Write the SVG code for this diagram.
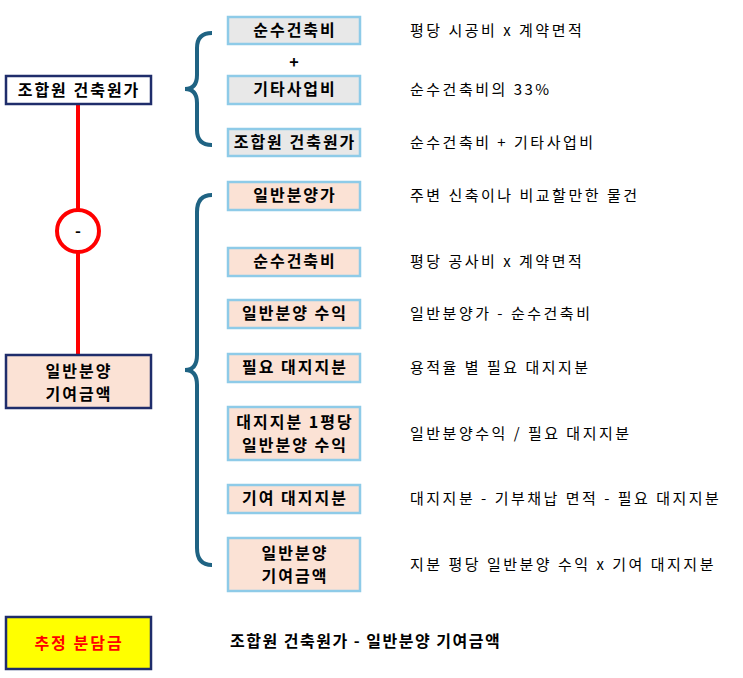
<svg xmlns="http://www.w3.org/2000/svg" width="743" height="678" viewBox="0 0 743 678">
<style>
text{font-family:"Noto Sans CJK KR","Noto Sans",sans-serif;font-size:15px;fill:#000;letter-spacing:2.5px}
.b{font-weight:bold;text-anchor:middle;font-size:16px;letter-spacing:2px}
.l{fill:#fff;stroke:#1f2d6b;stroke-width:2.5}
.p{fill:#fbe2d5}
.r{stroke:#8ecbe8;stroke-width:2.5}
.g{fill:#e8e8e8}
.brace{fill:none;stroke:#1f6383;stroke-width:4}
</style>
<rect width="743" height="678" fill="#fff"/>
<g id="connectors">
<line x1="78" y1="104" x2="78" y2="355" stroke="#f00" stroke-width="4"/>
<path class="brace" d="M212,33 Q197,33 197,48 V75 Q197,89 185,89 Q197,89 197,103 V130 Q197,145 212,145"/>
<path class="brace" d="M212,195 Q197,195 197,212 V355 Q197,370 185,370 Q197,370 197,385 V548 Q197,565 212,565"/>
</g>
<g id="minus"><circle cx="78" cy="231" r="21" fill="#fff" stroke="#f00" stroke-width="4"/><text x="79" y="237" class="b">-</text></g>
<g id="cost"><rect x="6" y="76" width="145" height="28" class="l"/><text x="79" y="96" class="b">조합원 건축원가</text></g>
<g id="contrib"><rect x="6" y="355" width="145" height="53" class="l p"/><text x="79" y="377" class="b">일반분양</text><text x="79" y="400" class="b">기여금액</text></g>
<g id="share"><rect x="6" y="617" width="145" height="52" class="l" style="fill:#ff0"/><text x="79" y="649" class="b" style="fill:#f00">추정 분담금</text></g>
<g id="n1"><rect x="228" y="17" width="132" height="27" class="r g"/><text x="295" y="36" class="b">순수건축비</text></g>
<text x="295" y="68" class="b">+</text>
<g id="n2"><rect x="228" y="76" width="132" height="28" class="r g"/><text x="295" y="95" class="b">기타사업비</text></g>
<g id="n3"><rect x="228" y="129" width="132" height="27" class="r g"/><text x="295" y="148" class="b">조합원 건축원가</text></g>
<g id="n4"><rect x="228" y="182" width="132" height="28" class="r p"/><text x="295" y="201" class="b">일반분양가</text></g>
<g id="n5"><rect x="228" y="248" width="132" height="28" class="r p"/><text x="295" y="267" class="b">순수건축비</text></g>
<g id="n6"><rect x="228" y="300" width="132" height="28" class="r p"/><text x="295" y="319" class="b">일반분양 수익</text></g>
<g id="n7"><rect x="228" y="354" width="132" height="28" class="r p"/><text x="295" y="373" class="b">필요 대지지분</text></g>
<g id="n8"><rect x="228" y="407" width="132" height="53" class="r p"/><text x="295" y="428" class="b">대지지분 1평당</text><text x="295" y="451" class="b">일반분양 수익</text></g>
<g id="n9"><rect x="228" y="485" width="132" height="28" class="r p"/><text x="295" y="504" class="b">기여 대지지분</text></g>
<g id="n10"><rect x="228" y="538" width="132" height="53" class="r p"/><text x="295" y="559" class="b">일반분양</text><text x="295" y="582" class="b">기여금액</text></g>
<g id="desc">
<text x="410" y="36">평당 시공비 x 계약면적</text>
<text x="410" y="95">순수건축비의 33%</text>
<text x="410" y="148">순수건축비 + 기타사업비</text>
<text x="410" y="201">주변 신축이나 비교할만한 물건</text>
<text x="410" y="267">평당 공사비 x 계약면적</text>
<text x="410" y="319">일반분양가 - 순수건축비</text>
<text x="410" y="373">용적율 별 필요 대지지분</text>
<text x="410" y="439">일반분양수익 / 필요 대지지분</text>
<text x="410" y="504">대지지분 - 기부채납 면적 - 필요 대지지분</text>
<text x="410" y="570">지분 평당 일반분양 수익 x 기여 대지지분</text>
<text x="230" y="647" style="font-weight:bold;font-size:16px;letter-spacing:1.5px">조합원 건축원가 - 일반분양 기여금액</text>
</g>
</svg>
